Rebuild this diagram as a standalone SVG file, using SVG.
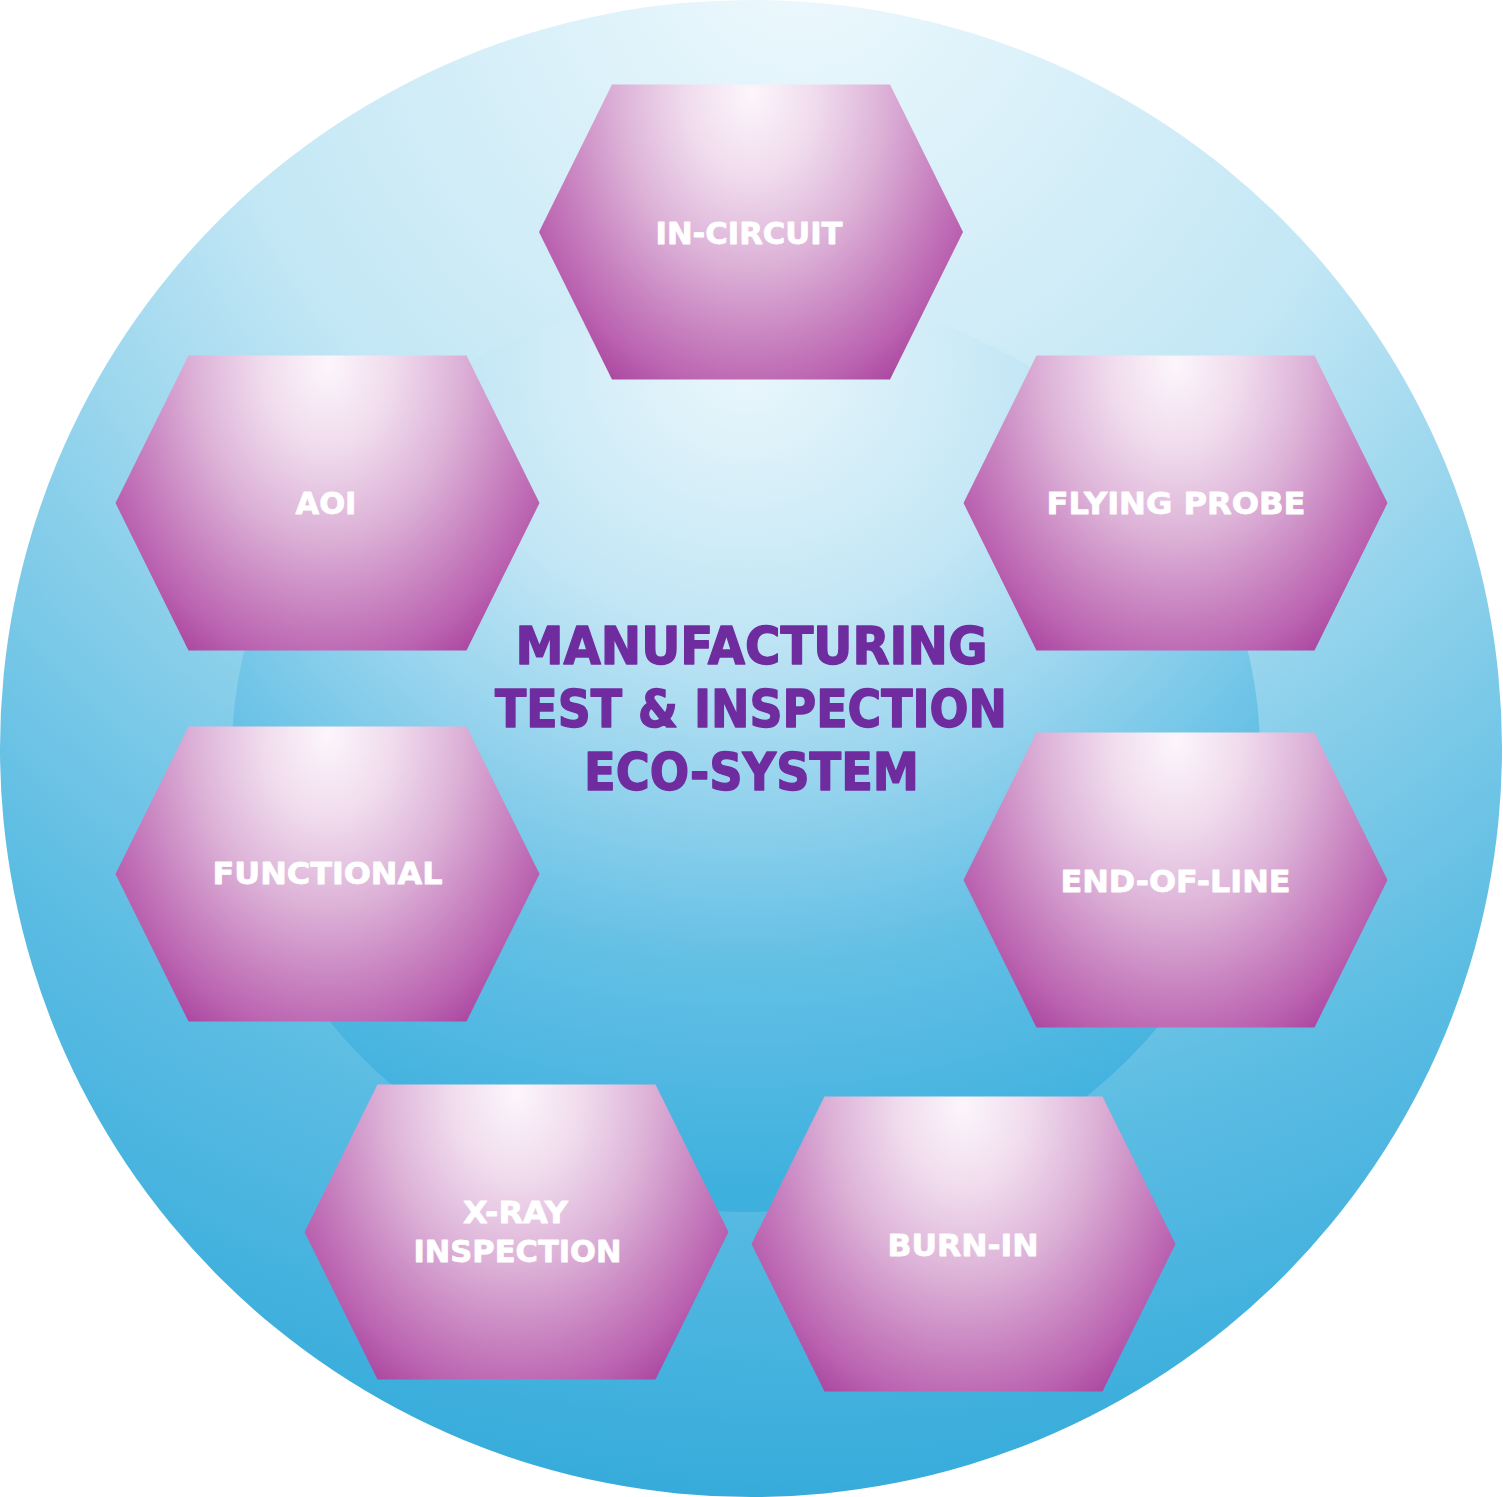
<svg xmlns="http://www.w3.org/2000/svg" xmlns:xlink="http://www.w3.org/1999/xlink" width="1503" height="1497" viewBox="0 0 1503 1497">
  <defs>
    <radialGradient id="gOuter" gradientUnits="userSpaceOnUse" cx="800" cy="-50" r="1560">
      <stop offset="0" stop-color="#eef9fd"/>
      <stop offset="0.38" stop-color="#c3e7f5"/>
      <stop offset="0.62" stop-color="#82cce9"/>
      <stop offset="0.77" stop-color="#5dbde3"/>
      <stop offset="1" stop-color="#35abdb"/>
    </radialGradient>
    <radialGradient id="gInner" cx="0.5" cy="0.08" r="0.95">
      <stop offset="0" stop-color="#eaf7fc"/>
      <stop offset="0.3" stop-color="#c2e6f5"/>
      <stop offset="0.5" stop-color="#93d2ed"/>
      <stop offset="0.68" stop-color="#64c0e5"/>
      <stop offset="0.95" stop-color="#3db0de"/>
    </radialGradient>
    <radialGradient id="gHex" cx="0.5" cy="0.03" r="1" gradientTransform="translate(0.5,0.03) scale(0.62,1.15) translate(-0.5,-0.03)">
      <stop offset="0" stop-color="#fcf6fb"/>
      <stop offset="0.25" stop-color="#f0dbed"/>
      <stop offset="0.5" stop-color="#ddb3d8"/>
      <stop offset="0.72" stop-color="#c985c1"/>
      <stop offset="0.88" stop-color="#bb64b1"/>
      <stop offset="1" stop-color="#ab47a1"/>
    </radialGradient>
    <polygon id="hexShape" points="-139,-147.5 139,-147.5 212,0 139,147.5 -139,147.5 -212,0"/>
    <style>
      .hex { fill: url(#gHex); }
      .lbl { font-family: "DejaVu Sans", "Liberation Sans", sans-serif; font-weight: bold; font-size: 31px; fill: #ffffff; stroke: #ffffff; stroke-width: 0.8px; stroke-linejoin: round; text-anchor: middle; }
      .title { font-family: "DejaVu Sans", "Liberation Sans", sans-serif; font-weight: bold; font-size: 52px; fill: #6f2c9f; stroke: #6f2c9f; stroke-width: 1.5px; stroke-linejoin: round; text-anchor: middle; }
    </style>
  </defs>

  <g id="background">
    <ellipse cx="751" cy="748.5" rx="751" ry="748.5" fill="url(#gOuter)"/>
    <ellipse cx="746" cy="751" rx="514" ry="461" fill="url(#gInner)"/>
  </g>

  <g id="connectors"></g>

  <g id="center-title">
    <text class="title" x="751.5" y="663.5" textLength="472" lengthAdjust="spacingAndGlyphs">MANUFACTURING</text>
    <text class="title" x="751" y="726.5" textLength="512" lengthAdjust="spacingAndGlyphs">TEST &amp; INSPECTION</text>
    <text class="title" x="751.5" y="789.5" textLength="335" lengthAdjust="spacingAndGlyphs">ECO-SYSTEM</text>
  </g>

  <g id="node-in-circuit">
    <use xlink:href="#hexShape" href="#hexShape" class="hex" transform="translate(751,232)"/>
    <text class="lbl" x="749" y="243.5" textLength="187" lengthAdjust="spacingAndGlyphs">IN-CIRCUIT</text>
  </g>

  <g id="node-aoi">
    <use xlink:href="#hexShape" href="#hexShape" class="hex" transform="translate(327.5,503)"/>
    <text class="lbl" x="326" y="513.5" textLength="61" lengthAdjust="spacingAndGlyphs">AOI</text>
  </g>

  <g id="node-flying-probe">
    <use xlink:href="#hexShape" href="#hexShape" class="hex" transform="translate(1175.5,503)"/>
    <text class="lbl" x="1176" y="513.5" textLength="259" lengthAdjust="spacingAndGlyphs">FLYING PROBE</text>
  </g>

  <g id="node-functional">
    <use xlink:href="#hexShape" href="#hexShape" class="hex" transform="translate(327.5,874)"/>
    <text class="lbl" x="327.5" y="883.5" textLength="230" lengthAdjust="spacingAndGlyphs">FUNCTIONAL</text>
  </g>

  <g id="node-end-of-line">
    <use xlink:href="#hexShape" href="#hexShape" class="hex" transform="translate(1175.5,880)"/>
    <text class="lbl" x="1175.5" y="891.5" textLength="230" lengthAdjust="spacingAndGlyphs">END-OF-LINE</text>
  </g>

  <g id="node-x-ray">
    <use xlink:href="#hexShape" href="#hexShape" class="hex" transform="translate(516.5,1232)"/>
    <text class="lbl" x="515.5" y="1222.5" textLength="105" lengthAdjust="spacingAndGlyphs">X-RAY</text>
    <text class="lbl" x="517.5" y="1261.5" textLength="208" lengthAdjust="spacingAndGlyphs">INSPECTION</text>
  </g>

  <g id="node-burn-in">
    <use xlink:href="#hexShape" href="#hexShape" class="hex" transform="translate(963.5,1244)"/>
    <text class="lbl" x="963" y="1255.5" textLength="151" lengthAdjust="spacingAndGlyphs">BURN-IN</text>
  </g>
</svg>
